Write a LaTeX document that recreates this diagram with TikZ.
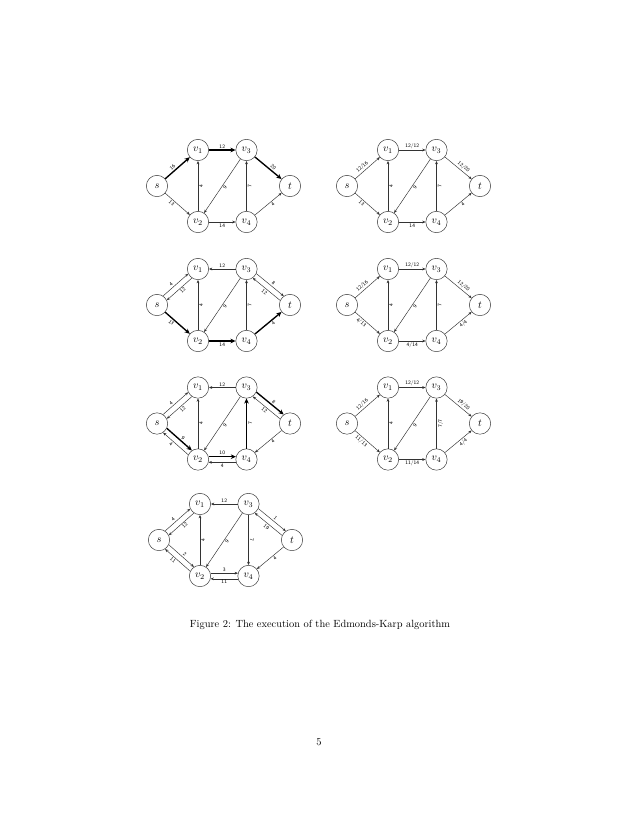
\documentclass[tikz,border=0pt]{standalone}
\usepackage{fontspec}
\usetikzlibrary{arrows.meta}

\tikzset{
  vert/.style={circle, draw=black!80, line width=0.45pt, minimum size=20.5pt, inner sep=0pt},
  e/.style={draw=black!80, line width=0.45pt, -{Stealth[length=3.2pt,width=2.6pt]}},
  be/.style={draw=black, line width=1.3pt, -{Stealth[length=5pt,width=4.5pt]}},
  lab/.style={font=\sffamily\fontsize{5}{5.5}\selectfont, sloped, inner sep=1.2pt}
}

% the six vertices of one network, #1 = prefix, (#2,#3) = place of s
\newcommand{\netnodes}[3]{%
  \node[vert] (#1-s) at (#2,#3) {$s$};
  \node[vert] (#1-v1) at (#2+41,#3-36) {$v_1$};
  \node[vert] (#1-v3) at (#2+89.5,#3-36) {$v_3$};
  \node[vert] (#1-t) at (#2+133,#3) {$t$};
  \node[vert] (#1-v2) at (#2+41,#3+36) {$v_2$};
  \node[vert] (#1-v4) at (#2+89.5,#3+36) {$v_4$};
}

\begin{document}
\begin{tikzpicture}[x=0.9593pt, y=-0.9593pt]
  \useasboundingbox (0,0) rectangle (638,826);

  % first network, path s v1 v3 t
  \netnodes{g1}{157}{186}
  \draw[be] (g1-s) -- node[lab,above,pos=0.4]{16} (g1-v1);
  \draw[e] (g1-s) -- node[lab,below,pos=0.35]{13} (g1-v2);
  \draw[be] (g1-v1) -- node[lab,above]{12} (g1-v3);
  \draw[be] (g1-v3) -- node[lab,above,pos=0.6]{20} (g1-t);
  \draw[e] (g1-v2) -- node[lab,below]{14} (g1-v4);
  \draw[e] (g1-v4) -- node[lab,below,pos=0.6]{4} (g1-t);
  \draw[e] (g1-v2) -- node[lab,below]{4} (g1-v1);
  \draw[e] (g1-v3) -- node[lab,below]{9} (g1-v2);
  \draw[e] (g1-v4) -- node[lab,below]{7} (g1-v3);

  % flow after first path
  \netnodes{g2}{347}{186}
  \draw[e] (g2-s) -- node[lab,above,pos=0.4]{12/16} (g2-v1);
  \draw[e] (g2-s) -- node[lab,below,pos=0.35]{13} (g2-v2);
  \draw[e] (g2-v1) -- node[lab,above]{12/12} (g2-v3);
  \draw[e] (g2-v3) -- node[lab,above,pos=0.6]{12/20} (g2-t);
  \draw[e] (g2-v2) -- node[lab,below]{14} (g2-v4);
  \draw[e] (g2-v4) -- node[lab,below,pos=0.6]{4} (g2-t);
  \draw[e] (g2-v2) -- node[lab,below]{4} (g2-v1);
  \draw[e] (g2-v3) -- node[lab,below]{9} (g2-v2);
  \draw[e] (g2-v4) -- node[lab,below]{7} (g2-v3);

  % residual network, path s v2 v4 t
  \netnodes{g3}{157}{305}
  \draw[e] (g3-s.56) -- node[lab,above,pos=0.4]{4} (g3-v1.206);
  \draw[e] (g3-v1.236) -- node[lab,below,pos=0.45]{12} (g3-s.26);
  \draw[e] (g3-v3) -- node[lab,above]{12} (g3-v1);
  \draw[e] (g3-v3.335) -- node[lab,above,pos=0.55]{8} (g3-t.125);
  \draw[e] (g3-t.155) -- node[lab,below,pos=0.5]{12} (g3-v3.305);
  \draw[be] (g3-s) -- node[lab,below,pos=0.35]{13} (g3-v2);
  \draw[be] (g3-v2) -- node[lab,below]{14} (g3-v4);
  \draw[be] (g3-v4) -- node[lab,below,pos=0.6]{4} (g3-t);
  \draw[e] (g3-v2) -- node[lab,below]{4} (g3-v1);
  \draw[e] (g3-v3) -- node[lab,below]{9} (g3-v2);
  \draw[e] (g3-v4) -- node[lab,below]{7} (g3-v3);

  % flow after second path
  \netnodes{g4}{347}{305}
  \draw[e] (g4-s) -- node[lab,above,pos=0.4]{12/16} (g4-v1);
  \draw[e] (g4-s) -- node[lab,below,pos=0.35]{4/13} (g4-v2);
  \draw[e] (g4-v1) -- node[lab,above]{12/12} (g4-v3);
  \draw[e] (g4-v3) -- node[lab,above,pos=0.6]{12/20} (g4-t);
  \draw[e] (g4-v2) -- node[lab,below]{4/14} (g4-v4);
  \draw[e] (g4-v4) -- node[lab,below,pos=0.6]{4/4} (g4-t);
  \draw[e] (g4-v2) -- node[lab,below]{4} (g4-v1);
  \draw[e] (g4-v3) -- node[lab,below]{9} (g4-v2);
  \draw[e] (g4-v4) -- node[lab,below]{7} (g4-v3);

  % residual network, path s v2 v4 v3 t
  \netnodes{g5}{157}{423.5}
  \draw[e] (g5-s.56) -- node[lab,above,pos=0.4]{4} (g5-v1.206);
  \draw[e] (g5-v1.236) -- node[lab,below,pos=0.45]{12} (g5-s.26);
  \draw[e] (g5-v3) -- node[lab,above]{12} (g5-v1);
  \draw[be] (g5-v3.335) -- node[lab,above,pos=0.55]{8} (g5-t.125);
  \draw[e] (g5-t.155) -- node[lab,below,pos=0.5]{12} (g5-v3.305);
  \draw[be] (g5-s.334) -- node[lab,above,pos=0.55]{9} (g5-v2.124);
  \draw[e] (g5-v2.154) -- node[lab,below,pos=0.6]{4} (g5-s.304);
  \draw[be] (g5-v2.15) -- node[lab,above]{10} (g5-v4.165);
  \draw[e] (g5-v4.195) -- node[lab,below]{4} (g5-v2.345);
  \draw[e] (g5-t) -- node[lab,below,pos=0.4]{4} (g5-v4);
  \draw[e] (g5-v2) -- node[lab,below]{4} (g5-v1);
  \draw[e] (g5-v3) -- node[lab,below]{9} (g5-v2);
  \draw[be] (g5-v4) -- node[lab,below]{7} (g5-v3);

  % flow after third path
  \netnodes{g6}{347}{423.5}
  \draw[e] (g6-s) -- node[lab,above,pos=0.4]{12/16} (g6-v1);
  \draw[e] (g6-s) -- node[lab,below,pos=0.35]{11/13} (g6-v2);
  \draw[e] (g6-v1) -- node[lab,above]{12/12} (g6-v3);
  \draw[e] (g6-v3) -- node[lab,above,pos=0.6]{19/20} (g6-t);
  \draw[e] (g6-v2) -- node[lab,below]{11/14} (g6-v4);
  \draw[e] (g6-v4) -- node[lab,below,pos=0.6]{4/4} (g6-t);
  \draw[e] (g6-v2) -- node[lab,below]{4} (g6-v1);
  \draw[e] (g6-v3) -- node[lab,below]{9} (g6-v2);
  \draw[e] (g6-v4) -- node[lab,below]{7/7} (g6-v3);

  % last residual network, no path left
  \netnodes{g7}{159}{540}
  \draw[e] (g7-s.56) -- node[lab,above,pos=0.4]{4} (g7-v1.206);
  \draw[e] (g7-v1.236) -- node[lab,below,pos=0.45]{12} (g7-s.26);
  \draw[e] (g7-v3) -- node[lab,above]{12} (g7-v1);
  \draw[e] (g7-v3.335) -- node[lab,above,pos=0.55]{1} (g7-t.125);
  \draw[e] (g7-t.155) -- node[lab,below,pos=0.5]{19} (g7-v3.305);
  \draw[e] (g7-s.334) -- node[lab,above,pos=0.55]{2} (g7-v2.124);
  \draw[e] (g7-v2.154) -- node[lab,below,pos=0.6]{11} (g7-s.304);
  \draw[e] (g7-v2.15) -- node[lab,above]{3} (g7-v4.165);
  \draw[e] (g7-v4.195) -- node[lab,below]{11} (g7-v2.345);
  \draw[e] (g7-t) -- node[lab,below,pos=0.4]{4} (g7-v4);
  \draw[e] (g7-v2) -- node[lab,below]{4} (g7-v1);
  \draw[e] (g7-v3) -- node[lab,below]{9} (g7-v2);
  \draw[e] (g7-v3) -- node[lab,above]{7} (g7-v4);

  \node (cap) at (320,625) {Figure 2: The execution of the Edmonds-Karp algorithm};
  \node (page) at (319,742) {5};
\end{tikzpicture}
\end{document}
